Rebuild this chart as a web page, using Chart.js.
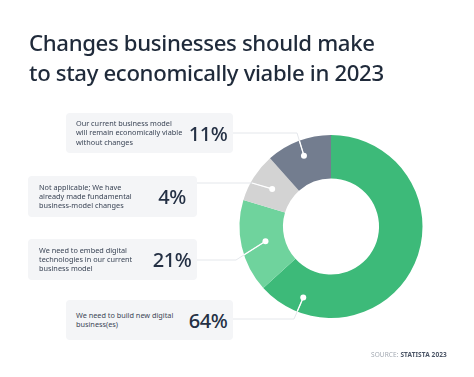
<!DOCTYPE html>
<html>
<head>
<meta charset="utf-8">
<script src="https://cdn.jsdelivr.net/npm/chart.js@4"></script>
<style>
  html, body { margin: 0; padding: 0; background: #ffffff; }
  #wrap { position: relative; width: 474px; height: 377px; overflow: hidden; font-family: "Noto Sans", sans-serif; }
  #donut { position: absolute; left: 0; top: 0; }
  .title { position: absolute; left: 29px; top: 28px; margin: 0; font-size: 22.2px; font-weight: 500; line-height: 30px; color: #1f2a3a; letter-spacing: -0.35px; white-space: nowrap; }
  .box { position: absolute; background: #f4f5f7; border-radius: 4px; display: flex; align-items: center; }
  .box .txt { font-size: 7.3px; line-height: 9.3px; color: #3b4556; flex: 1; white-space: nowrap; }
  .box .pct { width: 50px; text-align: center; font-size: 20px; font-weight: 500; color: #243044; letter-spacing: -0.5px; }
  .source { position: absolute; left: 371px; top: 350px; font-size: 6.5px; letter-spacing: 0.1px; color: #a3a9b2; white-space: nowrap; }
  .source b { color: #4b5566; font-weight: 700; }
</style>
</head>
<body>
<div id="wrap">
  <canvas id="donut" width="474" height="377"></canvas>
  <div class="title">Changes businesses should make<br>to stay economically viable in 2023</div>
  <div id="boxes"></div>
  <div class="source">SOURCE: <b>STATISTA 2023</b></div>
</div>
<script>
  // slices clockwise from 12 o'clock
  const categories = [
    'We need to build new digital<br>business(es)',
    'We need to embed digital<br>technologies in our current<br>business model',
    'Not applicable; We have<br>already made fundamental<br>business-model changes',
    'Our current business model<br>will remain economically viable<br>without changes'
  ];
  const percentLabels = ['64%', '21%', '4%', '11%'];
  // arc shares as drawn in the picture
  const sliceShares = [63.2, 16.4, 8.7, 11.6];
  const sliceColors = ['#3dba79', '#6fd39d', '#d3d3d3', '#737d8f'];

  // label boxes (left, top, width, height), leader line y, elbow x, dot placement
  const boxes = [
    { left: 66, top: 300, w: 167, h: 40, pad: 10, lineY: 319, elbowX: 294, dotT: 0.884, dotR: 0.65 },
    { left: 28, top: 239, w: 169, h: 41, pad: 11, lineY: 260, elbowX: 236, dotT: 0.5, dotR: 0.44 },
    { left: 28, top: 176, w: 169, h: 41, pad: 11, lineY: 183, elbowX: 252, dotT: 0.5, dotR: 0.5 },
    { left: 66, top: 113, w: 167, h: 40, pad: 10, lineY: 133, elbowX: 297, dotT: 0.5, dotR: 0.64 }
  ];

  const boxHolder = document.getElementById('boxes');
  boxes.forEach((b, i) => {
    const el = document.createElement('div');
    el.className = 'box';
    el.style.left = b.left + 'px';
    el.style.top = b.top + 'px';
    el.style.width = b.w + 'px';
    el.style.height = b.h + 'px';
    el.innerHTML = '<div class="txt" style="padding-left:' + b.pad + 'px">' + categories[i] + '</div>' +
      '<div class="pct">' + percentLabels[i] + '</div>';
    boxHolder.appendChild(el);
  });

  const leaders = {
    id: 'leaders',
    afterDatasetsDraw(chart) {
      const ctx = chart.ctx;
      const arcs = chart.getDatasetMeta(0).data;
      arcs.forEach((arc, i) => {
        const b = boxes[i];
        const a = arc.startAngle + b.dotT * (arc.endAngle - arc.startAngle);
        const r = arc.innerRadius + b.dotR * (arc.outerRadius - arc.innerRadius);
        const dx = arc.x + r * Math.cos(a);
        const dy = arc.y + r * Math.sin(a);

        ctx.save();
        ctx.lineWidth = 1;
        ctx.strokeStyle = '#e4e7eb';
        ctx.beginPath();
        ctx.moveTo(b.left + b.w, b.lineY);
        ctx.lineTo(b.elbowX, b.lineY);
        ctx.lineTo(dx, dy);
        ctx.stroke();

        ctx.beginPath();
        ctx.arc(arc.x, arc.y, arc.outerRadius, 0, Math.PI * 2);
        ctx.clip();
        ctx.lineWidth = 1.3;
        ctx.strokeStyle = '#ffffff';
        ctx.beginPath();
        ctx.moveTo(b.elbowX, b.lineY);
        ctx.lineTo(dx, dy);
        ctx.stroke();
        ctx.restore();

        ctx.beginPath();
        ctx.arc(dx, dy, 3, 0, Math.PI * 2);
        ctx.fillStyle = '#ffffff';
        ctx.fill();
      });
    }
  };

  new Chart(document.getElementById('donut').getContext('2d'), {
    type: 'doughnut',
    data: {
      labels: percentLabels,
      datasets: [{
        data: sliceShares,
        backgroundColor: sliceColors,
        borderWidth: 0
      }]
    },
    options: {
      responsive: false,
      animation: false,
      cutout: '52.5%',
      layout: { padding: { left: 239.5, right: 51.5, top: 135, bottom: 59 } },
      plugins: {
        legend: { display: false },
        tooltip: { enabled: false }
      }
    },
    plugins: [leaders]
  });
</script>
</body>
</html>
